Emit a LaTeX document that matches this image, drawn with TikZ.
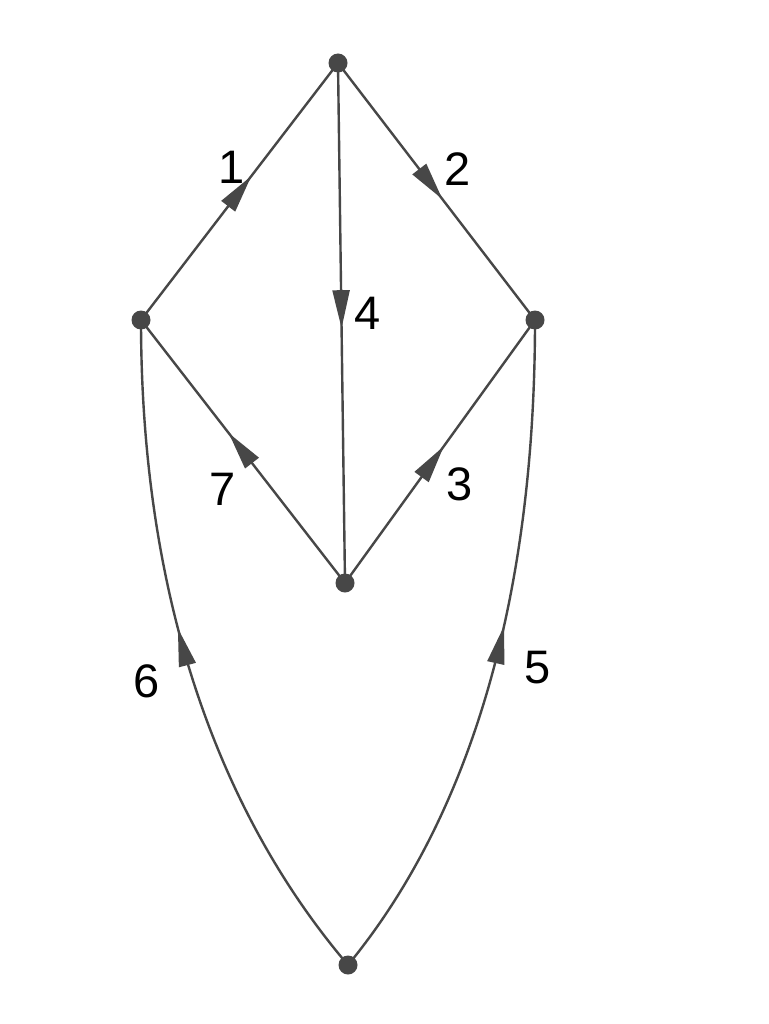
\documentclass[tikz,border=0pt]{standalone}
\usepackage{fontspec}
\setmainfont{Liberation Sans}
\usetikzlibrary{arrows.meta,decorations.markings}
\definecolor{ink}{HTML}{474747}
\tikzset{
  vtx/.style={circle,fill=ink,inner sep=0pt,minimum size=19pt},
  edge/.style={draw=ink,line width=2.4pt},
  midarrow/.style={postaction={decorate},decoration={markings,
    mark=at position #1 with {\arrow{Triangle[length=38pt,width=17pt,fill=ink,color=ink]}}}},
  lbl/.style={font=\fontsize{47}{47}\selectfont,text=black,inner sep=0pt}
}
\begin{document}
\begin{tikzpicture}[x=1pt,y=-1pt]
\useasboundingbox (0,0) rectangle (768,1024);
\fill[white] (0,0) rectangle (768,1024);
\node[vtx] (top) at (338,63) {};
\node[vtx] (lft) at (141,320) {};
\node[vtx] (rgt) at (535,320) {};
\node[vtx] (mid) at (345,583) {};
\node[vtx] (bot) at (348,965) {};
\draw[edge,midarrow=0.56] (lft.center) -- (top.center);
\draw[edge,midarrow=0.53] (top.center) -- (rgt.center);
\draw[edge,midarrow=0.51] (top.center) -- (mid.center);
\draw[edge,midarrow=0.52] (mid.center) -- (rgt.center);
\draw[edge,midarrow=0.57] (mid.center) -- (lft.center);
\draw[edge,midarrow=0.55] (bot.center) .. controls (250,850) and (141,650) .. (lft.center);
\draw[edge,midarrow=0.55] (bot.center) .. controls (455,835) and (535,630) .. (rgt.center);
\node[lbl] (l1) at (232,167) {1};
\node[lbl] (l2) at (458,169) {2};
\node[lbl] (l4) at (368,313) {4};
\node[lbl] (l7) at (223,489) {7};
\node[lbl] (l3) at (460,484) {3};
\node[lbl] (l6) at (147,681) {6};
\node[lbl] (l5) at (538,668) {5};
\end{tikzpicture}
\end{document}
